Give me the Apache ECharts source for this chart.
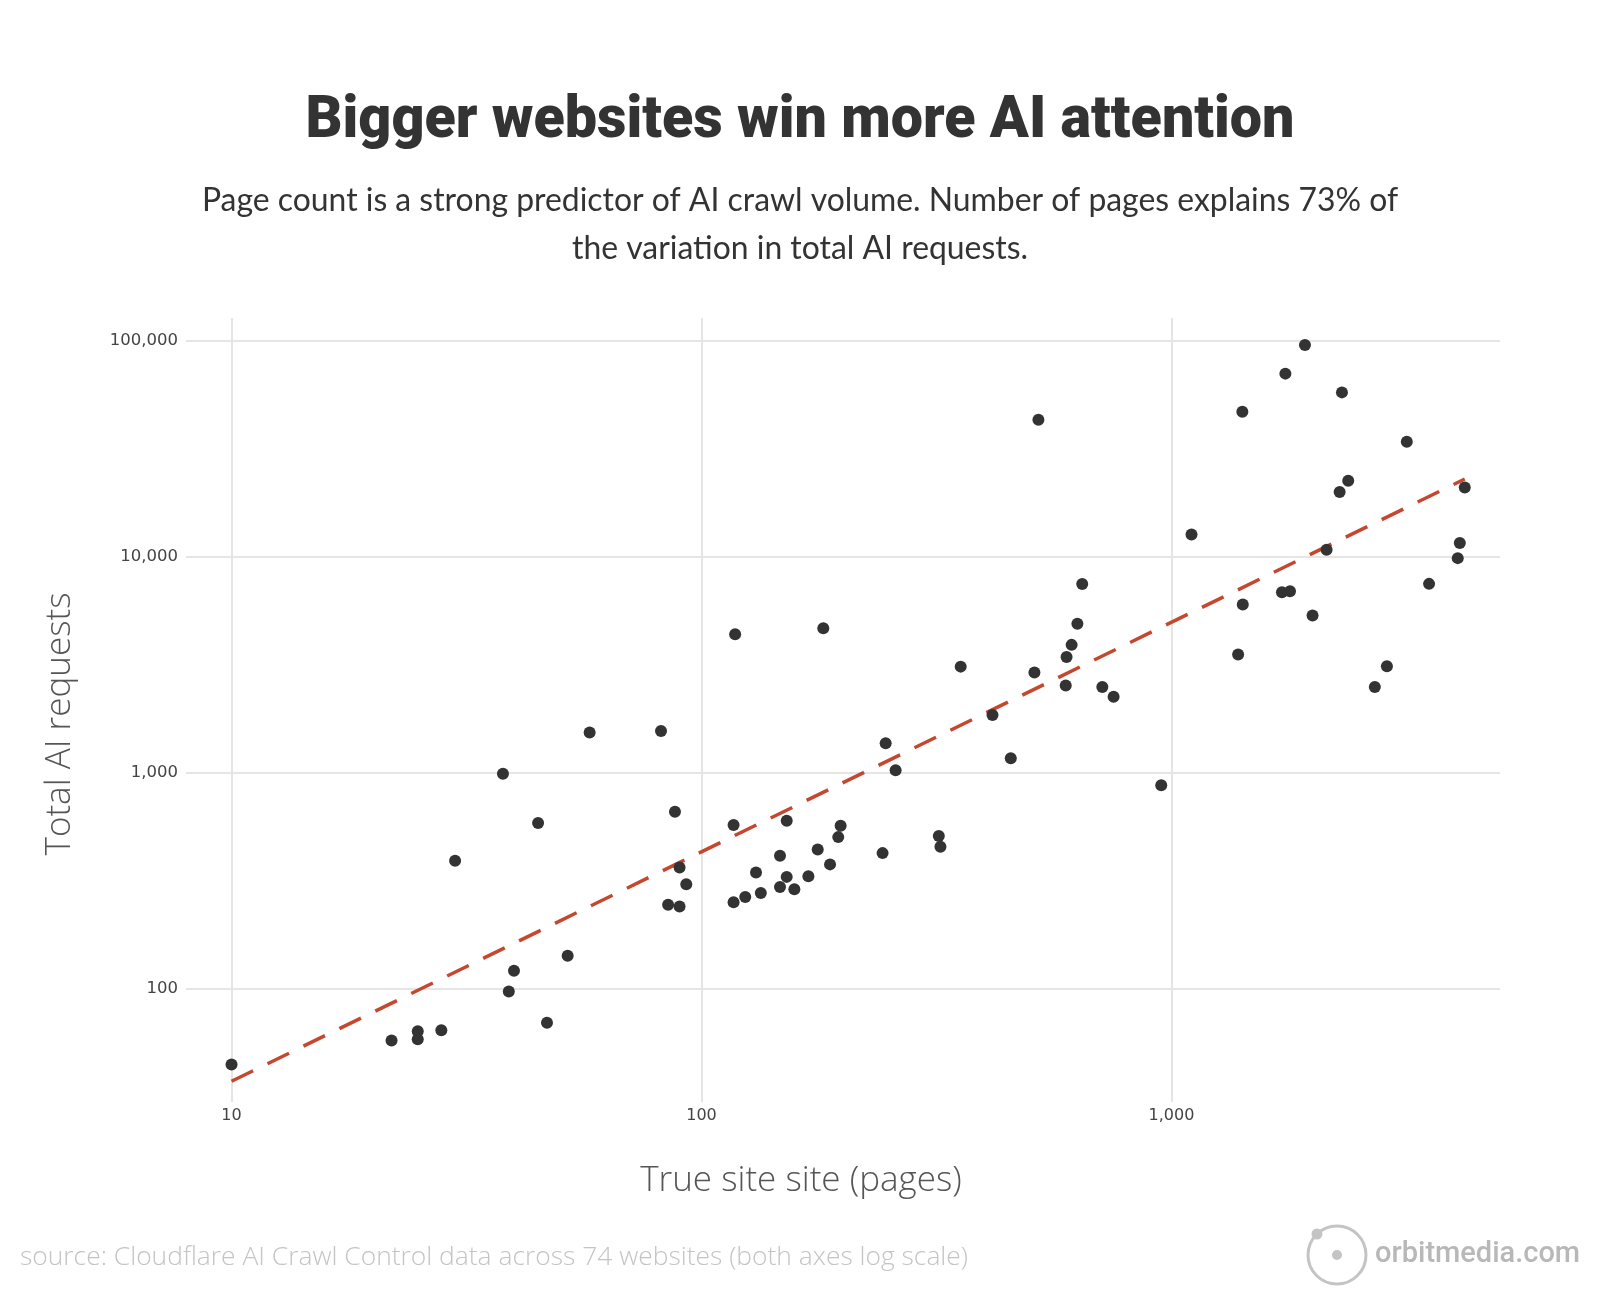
<!DOCTYPE html>
<html>
<head>
<meta charset="utf-8">
<title>Bigger websites win more AI attention</title>
<script src="https://cdn.jsdelivr.net/npm/echarts@6/dist/echarts.min.js"></script>
<style>
  html, body { margin: 0; padding: 0; background: #fff; }
  #main { width: 1600px; height: 1306px; }
</style>
</head>
<body>
<div id="main"></div>
<script>
// site size (pages) and total AI requests, one entry per website
var pages = [10, 21.9, 24.9, 24.9, 27.95, 29.9, 37.8, 38.9, 39.9, 44.9,
  46.9, 51.9, 57.8, 82, 84.9, 87.8, 89.8, 89.8, 92.8, 117,
  117, 117.9, 123.9, 130.6, 133.7, 146.9, 146.9, 151.8, 151.8, 157.6,
  168.8, 176.7, 181.6, 187.7, 195.4, 197.7, 242.8, 246.5, 258.8, 319.8,
  322.4, 356, 416, 455, 510.9, 521, 595.6, 598, 613, 630.6,
  645.7, 712.5, 753, 951, 1103, 1386, 1415, 1418, 1718, 1747,
  1787, 1923, 1996, 2138, 2279, 2305, 2377, 2708, 2873, 3167,
  3532, 4065, 4106, 4207];
var requests = [44.7, 57.8, 63.8, 58.6, 64.4, 392, 991, 97.4, 121.3, 586,
  69.7, 142.3, 1535, 1561, 245, 661, 365, 241, 305, 573,
  252, 4375, 266, 346, 278, 413, 296, 600, 330, 289,
  332, 442, 4666, 377, 504, 569, 425, 1369, 1027, 510,
  455, 3098, 1852, 1167, 2907, 42990, 2531, 3429, 3906, 4887,
  7464, 2495, 2248, 875, 12660, 3523, 46820, 6001, 6848, 70220,
  6923, 95300, 5337, 10750, 19890, 57510, 22440, 2495, 3112, 34000,
  7480, 9840, 11550, 20890];

// fitted trend line (log-log), start and end
var trendX = [10, 4207];
var trendY = [37.4, 22850];

var points = pages.map(function (p, i) { return [p, requests[i]]; });
var trend = trendX.map(function (x, i) { return [x, trendY[i]]; });

// only label the powers of ten
function decadeLabel(v) {
  var l = Math.log10(v);
  if (Math.abs(l - Math.round(l)) > 1e-6) return '';
  return Math.round(v).toLocaleString('en-US');
}

var gray = '#c4c4c4';

var chart = echarts.init(document.getElementById('main'));
chart.setOption({
  backgroundColor: '#fff',
  animation: false,
  grid: { left: 186, right: 100, top: 318, bottom: 204 },
  xAxis: {
    type: 'log',
    min: 8,
    max: 5000,
    name: 'True site site (pages)',
    nameLocation: 'middle',
    nameGap: 62,
    nameTextStyle: {
      fontFamily: 'Open Sans',
      fontWeight: 300,
      fontSize: 35,
      color: '#555',
      padding: [0, 84, 0, 0]
    },
    axisLine: { show: false },
    axisTick: { show: false },
    axisLabel: {
      margin: 6,
      fontFamily: 'DejaVu Sans',
      fontSize: 16,
      color: '#444',
      showMinLabel: false,
      showMaxLabel: false,
      formatter: decadeLabel
    },
    splitLine: {
      show: true,
      showMinLine: false,
      showMaxLine: false,
      lineStyle: { color: '#e5e5e5', width: 2 }
    }
  },
  yAxis: {
    type: 'log',
    min: 30,
    max: 127000,
    name: 'Total AI requests',
    nameLocation: 'middle',
    nameGap: 108,
    nameTextStyle: {
      fontFamily: 'Open Sans',
      fontWeight: 300,
      fontSize: 35,
      color: '#555',
      padding: [0, 28, 0, 0]
    },
    axisLine: { show: false },
    axisTick: { show: false },
    axisLabel: {
      margin: 8,
      fontFamily: 'DejaVu Sans',
      fontSize: 16.5,
      color: '#444',
      showMinLabel: false,
      showMaxLabel: false,
      formatter: decadeLabel
    },
    splitLine: {
      show: true,
      showMinLine: false,
      showMaxLine: false,
      lineStyle: { color: '#e5e5e5', width: 2 }
    }
  },
  series: [{
    type: 'line',
    data: trend,
    symbol: 'none',
    z: 1,
    lineStyle: { color: '#c4472f', width: 3.5, type: [24, 16] }
  }, {
    type: 'scatter',
    data: points,
    symbolSize: 12,
    z: 2,
    itemStyle: { color: '#333', opacity: 1 }
  }],
  graphic: [{
    // title, squeezed a little to look like a condensed face
    type: 'text',
    x: 800,
    y: 122,
    scaleX: 0.957,
    style: {
      text: 'Bigger websites win more AI attention',
      font: '900 60px Roboto',
      fill: '#333',
      align: 'center',
      verticalAlign: 'middle'
    }
  }, {
    type: 'text',
    x: 800,
    y: 225,
    style: {
      text: 'Page count is a strong predictor of AI crawl volume. Number of pages explains 73% of\nthe variation in total AI requests.',
      font: '31.9px Lato',
      lineHeight: 48,
      fill: '#333',
      align: 'center',
      verticalAlign: 'middle'
    }
  }, {
    type: 'text',
    x: 20,
    y: 1257,
    style: {
      text: 'source: Cloudflare AI Crawl Control data across 74 websites (both axes log scale)',
      font: '300 26.4px "Open Sans"',
      fill: gray,
      verticalAlign: 'middle'
    }
  }, {
    type: 'circle',
    shape: { cx: 1337, cy: 1255, r: 29 },
    style: { fill: 'none', stroke: gray, lineWidth: 3 }
  }, {
    type: 'circle',
    shape: { cx: 1337, cy: 1255, r: 5 },
    style: { fill: gray }
  }, {
    type: 'circle',
    shape: { cx: 1317, cy: 1234, r: 5.5 },
    style: { fill: gray }
  }, {
    type: 'text',
    x: 1375,
    y: 1255,
    style: {
      text: 'orbitmedia.com',
      font: '500 29px Roboto',
      fill: '#b8b8b8',
      verticalAlign: 'middle'
    }
  }]
});
</script>
</body>
</html>
